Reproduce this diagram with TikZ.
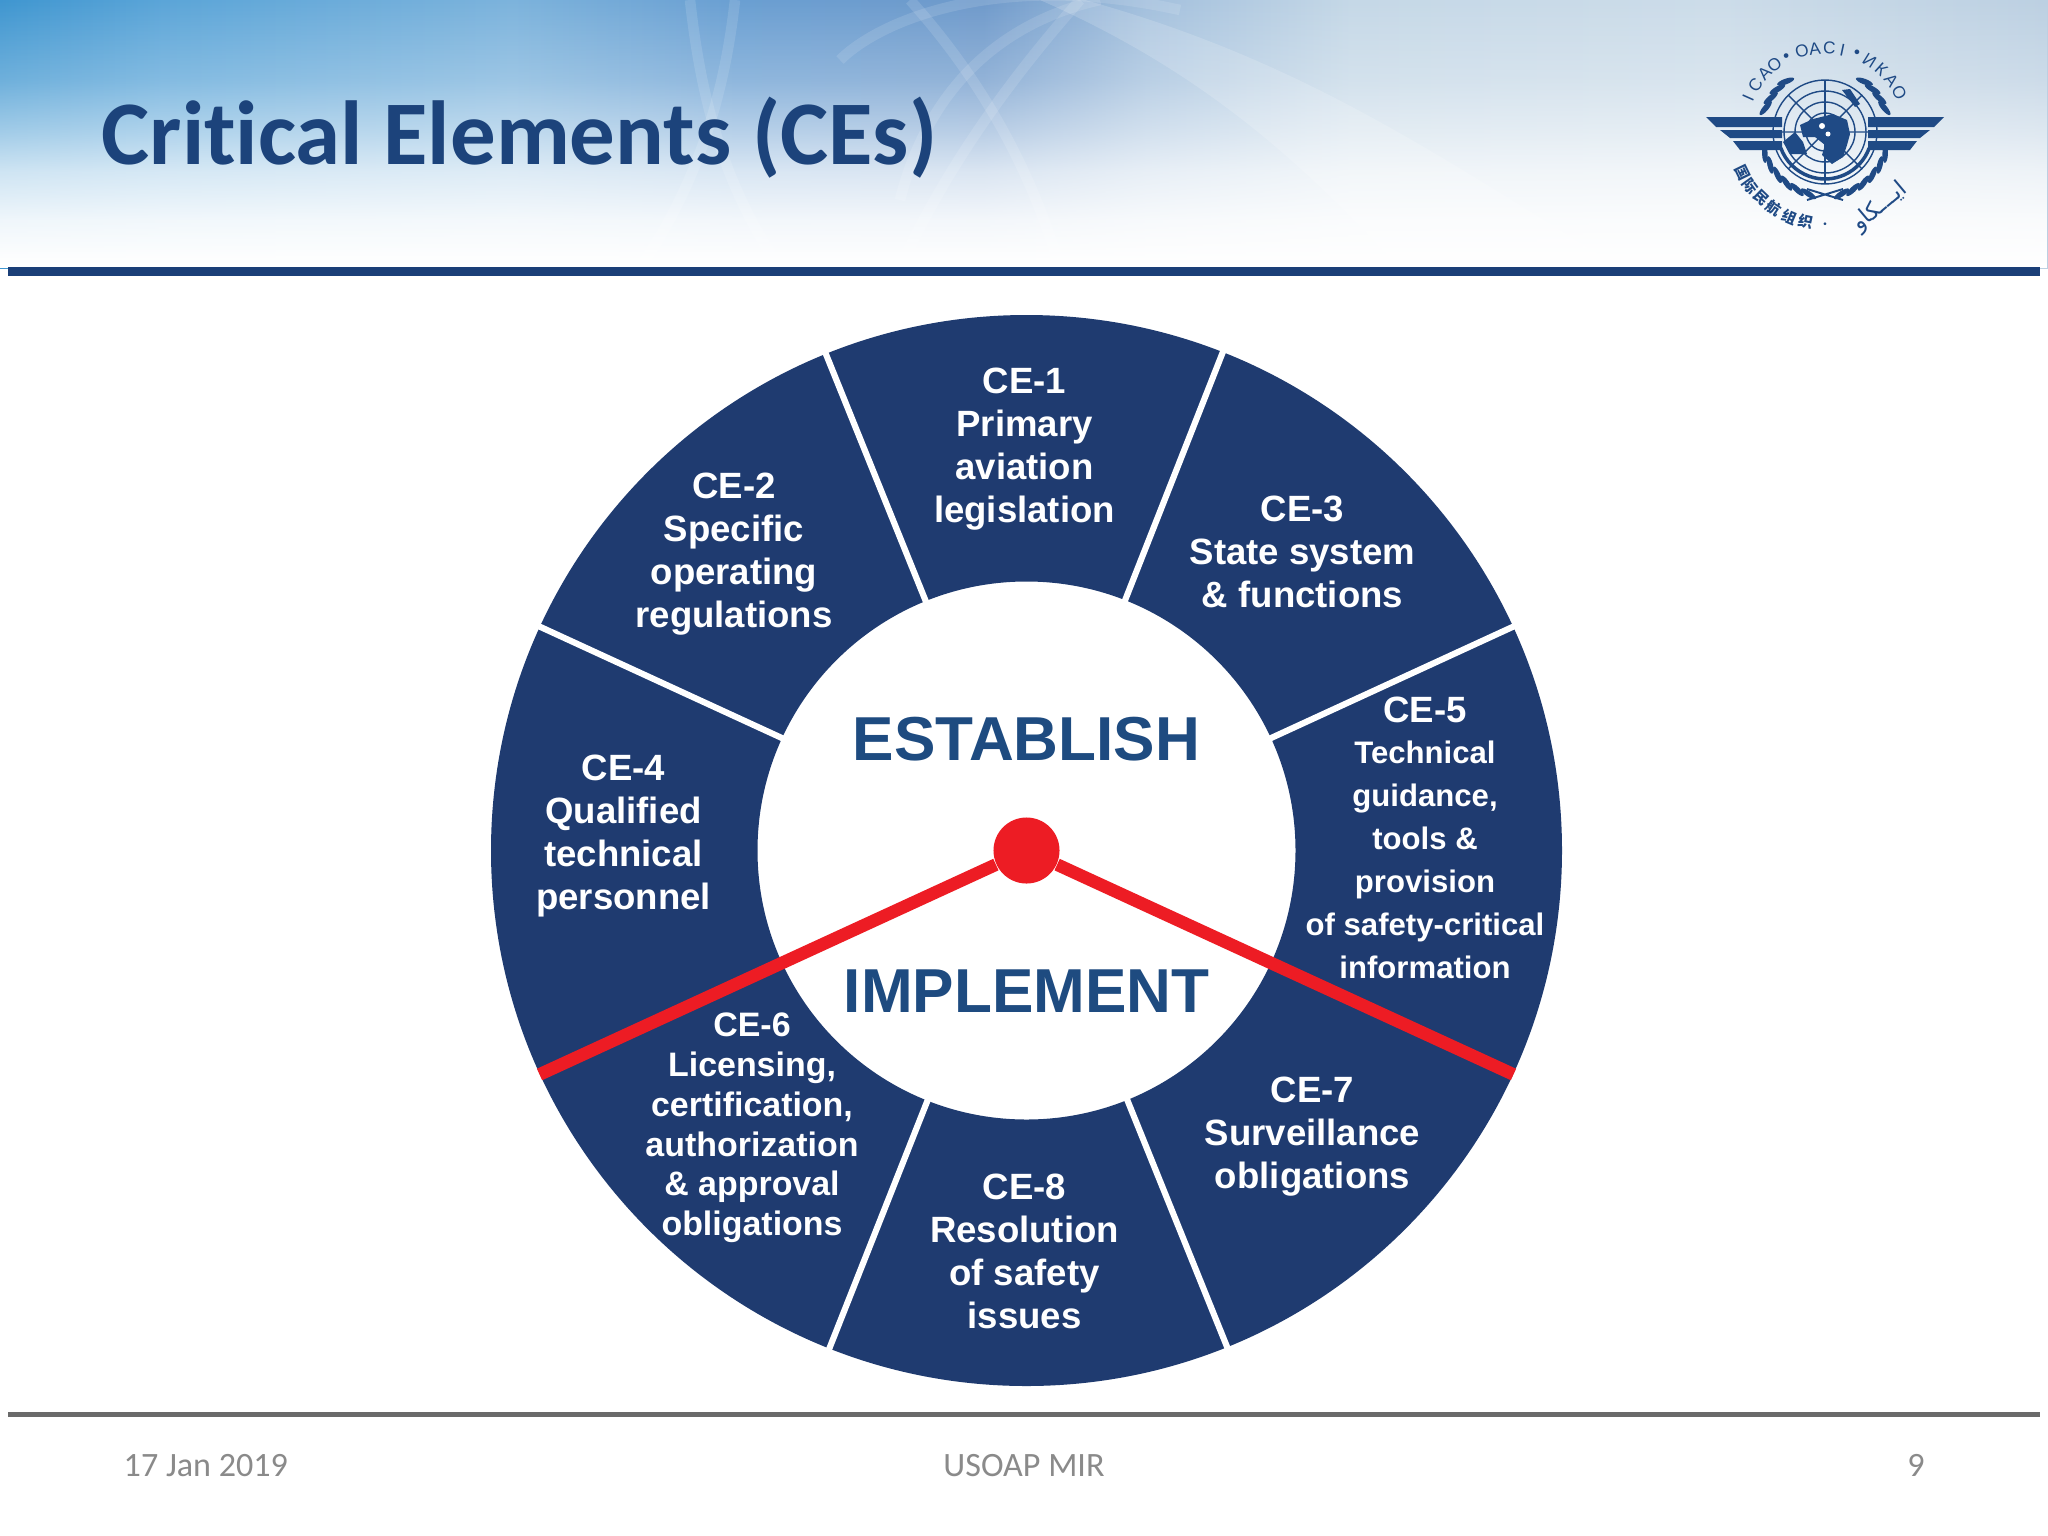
\documentclass[tikz,border=0pt]{standalone}
\usepackage{fontspec}
\usetikzlibrary{fadings,calc}
\setmainfont{Liberation Sans}
\newfontfamily\titlefont[Ligatures=NoCommon]{Carlito}
\newfontfamily\cjkfont{Noto Sans CJK SC}
\newfontfamily\arabicfont[Script=Arabic]{DejaVu Sans}
\TeXXeTstate=1
\definecolor{wheelblue}{HTML}{1F3B70}
\definecolor{titleblue}{HTML}{1C437B}
\definecolor{ringtext}{HTML}{1E4B80}
\definecolor{ruleblue}{HTML}{1B3F78}
\definecolor{rulegray}{HTML}{6A6A6A}
\definecolor{footgray}{HTML}{8A8A8A}
\definecolor{redline}{HTML}{ED1C24}
\definecolor{logoblue}{HTML}{1F4A85}
\definecolor{hdra}{HTML}{3F96D0}
\definecolor{hdrb}{HTML}{5BA5D8}
\definecolor{hdrc}{HTML}{7CB3DC}
\definecolor{hdrd}{HTML}{6A9FD2}
\definecolor{hdre}{HTML}{6F9ACB}
\definecolor{hdrf}{HTML}{A3C0DD}
\definecolor{hdrg}{HTML}{C5D8E7}
\definecolor{hdrh}{HTML}{CCDCE9}
\definecolor{hdri}{HTML}{BCD0E2}
\pgfdeclarehorizontalshading{hdrbase}{100bp}{
 color(0bp)=(hdra); color(25bp)=(hdra); color(29bp)=(hdrb); color(37.5bp)=(hdrc); color(43bp)=(hdrd);
 color(49bp)=(hdre); color(53bp)=(hdrf); color(58bp)=(hdrg); color(67bp)=(hdrh); color(75bp)=(hdri); color(100bp)=(hdri)}
\pgfdeclareverticalshading{hdrfadeshade}{100bp}{
 color(0bp)=(white); color(26bp)=(white); color(34bp)=(white!92!black);
 color(43bp)=(white!75!black); color(51bp)=(white!50!black); color(60bp)=(white!25!black); color(75bp)=(black); color(100bp)=(black)}
\pgfdeclarefading{hdrfade}{\pgfuseshading{hdrfadeshade}}
\tikzset{
 wheeltxt/.style={text=white,align=center,font=\bfseries\fontsize{10.4pt}{12.23pt}\selectfont},
 wheelsmall/.style={text=white,align=center,font=\bfseries\fontsize{8.85pt}{12.23pt}\selectfont},
 wheelsix/.style={text=white,align=center,font=\bfseries\fontsize{9.65pt}{11.3pt}\selectfont},
 ringword/.style={text=ringtext,font=\bfseries\fontsize{17.65pt}{20pt}\selectfont},
 spoke/.style={white,line width=1.75pt},
 redspoke/.style={redline,line width=3.6pt},
 wisp/.style={white,line width=3pt,opacity=.12},
 foot/.style={text=footgray,font=\titlefont\fontsize{9.7pt}{11pt}\selectfont},
 globeline/.style={logoblue,line width=.4pt},
 logoletter/.style={text=logoblue,inner sep=0pt,font=\fontsize{4.9pt}{5pt}\selectfont},
}
\begin{document}
\begin{tikzpicture}[x=0.01cm,y=-0.01cm]
\useasboundingbox (0,0) rectangle (2048,1536);
\fill[white] (0,0) rectangle (2048,1536);
% header
\shade[shading=hdrbase] (0,0) rectangle (2048,268);
\fill[white,opacity=.16] (1085,0) .. controls (1300,60) and (1430,150) .. (1620,268) -- (1400,268) .. controls (1300,160) and (1200,70) .. (1040,0) -- cycle;
\begin{scope}
\clip (0,0) rectangle (2048,268);
\draw[wisp] (690,0) .. controls (700,90) and (720,180) .. (780,268);
\draw[wisp] (735,0) .. controls (725,90) and (700,180) .. (640,268);
\draw[wisp] (1100,0) .. controls (1010,20) and (930,80) .. (900,200);
\draw[wisp] (840,60) .. controls (880,20) and (1000,-30) .. (1180,10);
\draw[wisp] (910,0) .. controls (1000,100) and (1040,200) .. (1060,268);
\draw[wisp] (1080,0) .. controls (1000,90) and (940,180) .. (900,268);
\end{scope}
\fill[white,path fading=hdrfade] (0,0) rectangle (2048,268);
\fill[ruleblue] (8,267) rectangle (2040,276);
% title
\node[anchor=base west,inner sep=0pt,text=titleblue,font=\titlefont\bfseries\fontsize{25.85pt}{30pt}\selectfont] (title) at (101,164) {Critical Elements (CEs)};
% logo
\begin{scope}[shift={(1825,132)}]
 \foreach \rr in {52,41,30,19} \draw[globeline] (0,0) circle (\rr);
 \draw[globeline] (0,-52) -- (0,52);
 \draw[globeline] (-37,-37) -- (37,37) (37,-37) -- (-37,37) (-52,0) -- (52,0);
 \draw[logoblue,line width=1pt] (20:47) arc[start angle=20,end angle=160,radius=47];
 \fill[logoblue] (-25,-7) -- (-12,-13) -- (8,-18) -- (22,-12) -- (25,2) -- (22,13) -- (18,25) -- (7,32) -- (-3,23) -- (0,13) -- (-10,5) -- (-22,5) -- cycle;
 \fill[logoblue] (-42,10) -- (-30,0) -- (-22,10) -- (-18,22) -- (-35,22) -- cycle;
 \fill[logoblue] (17,-42) -- (25,-43) -- (35,-28) -- (30,-25) -- cycle;
 \fill[white] (-3,-6) circle (3) (3,2) circle (2.5);
 \foreach \aa in {128,138,148,158,200,211,222,233,244,255} {
  \fill[logoblue,shift={({-\aa}:64)},rotate=\aa-18] (0,0) ellipse (2.8 and 9);
  \fill[logoblue,shift={({-(180-\aa)}:64)},rotate={180-\aa+18}] (0,0) ellipse (2.8 and 9);
 }
 \draw[logoblue,line width=.55pt] (-18,68) -- (18,57) (18,68) -- (-18,57);
 % wings
 \foreach \sx in {-1,1} {
  \begin{scope}[xscale=\sx]
   \fill[logoblue] (119,-15) -- (43,-15) -- (43,-5) -- (109,-5) -- cycle;
   \fill[logoblue] (105,-2) -- (43,-2) -- (43,6) -- (95,6) -- cycle;
   \fill[logoblue] (92,9) -- (43,9) -- (43,18) -- (85,18) -- cycle;
  \end{scope}
 }
\end{scope}
\coordinate (logoC) at (1825,132);
\foreach \lt/\aa [count=\ii] in {I/156,C/146,A/136,O/127,•/117,O/106,A/97,C/87,I/78,•/68,И/58,К/48,А/38,О/28} {
 \node[logoletter,rotate=\aa-90] (ring\ii) at ($(logoC)+({-\aa}:84)$) {\lt};
}
\foreach \lt/\aa [count=\ii] in {国/206,际/216,民/226,航/236,组/247,织/258} {
 \node[logoletter,font=\cjkfont\bfseries\fontsize{4.2pt}{4.5pt}\selectfont,rotate=\aa+90] (cjk\ii) at ($(logoC)+({-\aa}:92)$) {\lt};
}
\node[logoletter,font=\fontsize{2.8pt}{3pt}\selectfont] (logodot) at (1825,225) {•};
\node[logoletter,font=\arabicfont\fontsize{6.5pt}{7pt}\selectfont,rotate=40] (logoar) at (1880,207) {\beginR ايـــكاو\endR};
% wheel
\coordinate (C) at (1026.5,850.5);
\fill[wheelblue,even odd rule] (C) circle (535.5) (C) circle (269);
\foreach \aa in {68.5,112,155.3,24.7,-68,-111.6} {
 \draw[spoke] ($(C)+({-\aa}:266)$) -- ($(C)+({-\aa}:538)$);
}
\node[circle,fill=redline,inner sep=0pt,minimum size=0.66cm] (hub) at (C) {};
\coordinate (redR) at ($(C)+(24.7:536)$);
\coordinate (redL) at ($(C)+(155.3:536)$);
\draw[redspoke] (hub) -- (redR);
\draw[redspoke] (hub) -- (redL);
\node[ringword] (est) at (1026.5,739.5) {ESTABLISH};
\node[ringword] (imp) at (1026.5,991.5) {IMPLEMENT};
\node[wheeltxt] (ce1) at (1024.5,449.5) {CE-1\\Primary\\aviation\\legislation};
\node[wheeltxt] (ce2) at (734,554.5) {CE-2\\Specific\\operating\\regulations};
\node[wheeltxt] (ce3) at (1302.5,551.5) {CE-3\\State system\\\& functions};
\node[wheeltxt] (ce4) at (623.5,836) {CE-4\\Qualified\\technical\\personnel};
\node[wheelsmall] (ce5) at (1425,838) {{\fontsize{10.4pt}{12.23pt}\selectfont CE-5}\\[-0.74pt]Technical\\guidance,\\tools \&\\provision\\of safety-critical\\information};
\node[wheelsix] (ce6) at (752,1128) {CE-6\\Licensing,\\certification,\\authorization\\\& approval\\obligations};
\node[wheeltxt] (ce7) at (1312.5,1137) {CE-7\\Surveillance\\obligations};
\node[wheeltxt] (ce8) at (1024.5,1251.5) {CE-8\\Resolution\\of safety\\issues};
% footer
\fill[rulegray] (8,1412) rectangle (2040,1417);
\node[foot,anchor=base west,inner sep=0pt] (date) at (123,1476) {17 Jan 2019};
\node[foot,anchor=base,inner sep=0pt] (mir) at (1024,1476) {USOAP MIR};
\node[foot,anchor=base,inner sep=0pt] (pg) at (1916,1476) {9};
\end{tikzpicture}
\end{document}
